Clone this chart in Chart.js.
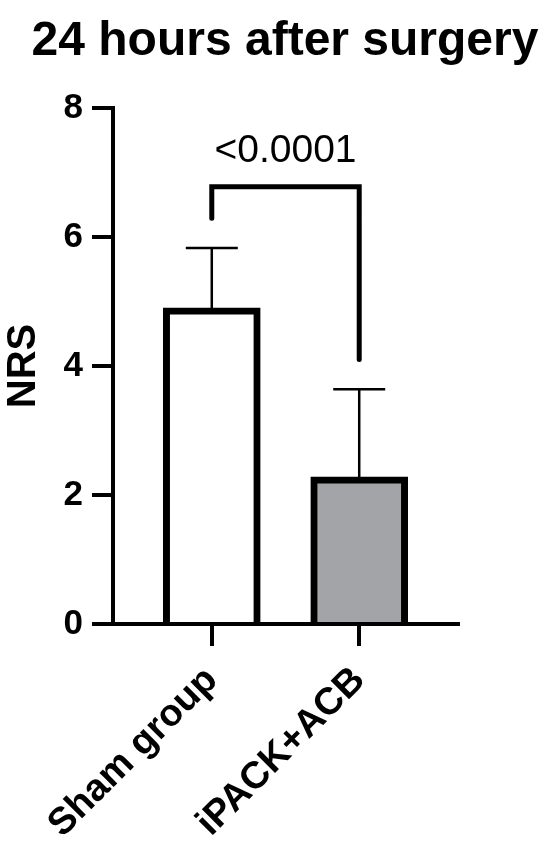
<!DOCTYPE html>
<html>
<head>
<meta charset="utf-8">
<script src="https://cdn.jsdelivr.net/npm/chart.js@4.4.0/dist/chart.umd.min.js"></script>
<style>
  html, body { margin: 0; padding: 0; background: #fff; }
</style>
</head>
<body>
<canvas id="chart" width="550" height="851"></canvas>
<script>
"use strict";

const titleText = "24 hours after surgery";
const categories = ["Sham group", "iPACK+ACB"];
const meanValues = [4.9, 2.28];
const sdValues = [0.93, 1.36];
const barColors = ["#ffffff", "#a3a4a8"];
const yTicks = [0, 2, 4, 6, 8];
const bracketTop = 6.78;
const bracketEnds = [6.29, 4.1];
const pLabel = "<0.0001";

const FONT = "'Liberation Sans', Arial, Helvetica, sans-serif";

// title, error bars and significance bracket are drawn on top of the bars
const annotations = {
  id: "annotations",
  afterDatasetsDraw(chart) {
    const { ctx, scales: { x, y } } = chart;
    const meta = chart.getDatasetMeta(0);
    ctx.save();
    ctx.strokeStyle = "#000";
    ctx.fillStyle = "#000";

    ctx.lineWidth = 2.5;
    ctx.lineCap = "butt";
    meta.data.forEach((bar, i) => {
      const top = y.getPixelForValue(meanValues[i] + sdValues[i]);
      ctx.beginPath();
      ctx.moveTo(bar.x, bar.y);
      ctx.lineTo(bar.x, top);
      ctx.moveTo(bar.x - 26, top);
      ctx.lineTo(bar.x + 26, top);
      ctx.stroke();
    });

    const x1 = x.getPixelForValue(1);
    const x2 = x.getPixelForValue(2);
    const yt = y.getPixelForValue(bracketTop);
    ctx.lineWidth = 5;
    ctx.lineJoin = "miter";
    ctx.lineCap = "round";
    ctx.beginPath();
    ctx.moveTo(x1, y.getPixelForValue(bracketEnds[0]));
    ctx.lineTo(x1, yt);
    ctx.lineTo(x2, yt);
    ctx.lineTo(x2, y.getPixelForValue(bracketEnds[1]));
    ctx.stroke();

    ctx.font = `39px ${FONT}`;
    ctx.textAlign = "center";
    ctx.textBaseline = "alphabetic";
    ctx.fillText(pLabel, (x1 + x2) / 2, yt - 25);

    ctx.font = `bold 48px ${FONT}`;
    ctx.fillText(titleText, 285, 55);
    ctx.restore();
  }
};

const chart = new Chart(document.getElementById("chart"), {
  type: "bar",
  data: {
    datasets: [
      {
        data: categories.map((c, i) => ({ x: i + 1, y: meanValues[i] })),
        backgroundColor: barColors,
        borderColor: "#000",
        borderWidth: 7,
        borderSkipped: "start",
        barThickness: 97
      }
    ]
  },
  options: {
    responsive: false,
    animation: false,
    layout: { padding: { top: 108, right: 92, bottom: 0, left: 0 } },
    plugins: {
      legend: { display: false },
      tooltip: { enabled: false },
      title: { display: false }
    },
    scales: {
      x: {
        type: "linear",
        offset: false,
        min: 0.33,
        max: 2.67,
        afterBuildTicks: (scale) => {
          scale.ticks = categories.map((c, i) => ({ value: i + 1 }));
        },
        afterFit: (scale) => { scale.height = 227; },
        ticks: {
          autoSkip: false,
          minRotation: 45,
          maxRotation: 45,
          padding: 12,
          color: "#000",
          font: { family: FONT, size: 38, weight: "bold" },
          callback: (value) => categories[value - 1]
        },
        grid: {
          offset: false,
          drawOnChartArea: false,
          drawTicks: true,
          tickLength: 22,
          tickWidth: 4,
          lineWidth: 4,
          color: "#000"
        },
        border: { display: true, width: 4, color: "#000" }
      },
      y: {
        min: 0,
        max: 8,
        afterBuildTicks: (scale) => {
          scale.ticks = yTicks.map((v) => ({ value: v }));
        },
        afterFit: (scale) => { scale.width = 113; },
        ticks: {
          padding: 9,
          color: "#000",
          font: { family: FONT, size: 35, weight: "bold" }
        },
        title: {
          display: true,
          text: "NRS",
          color: "#000",
          padding: { top: 0, bottom: 0 },
          font: { family: FONT, size: 40, weight: "bold" }
        },
        grid: {
          drawOnChartArea: false,
          drawTicks: true,
          tickLength: 21,
          tickWidth: 4,
          lineWidth: 4,
          color: "#000"
        },
        border: { display: true, width: 4, color: "#000" }
      }
    }
  },
  plugins: [annotations]
});
</script>
</body>
</html>
